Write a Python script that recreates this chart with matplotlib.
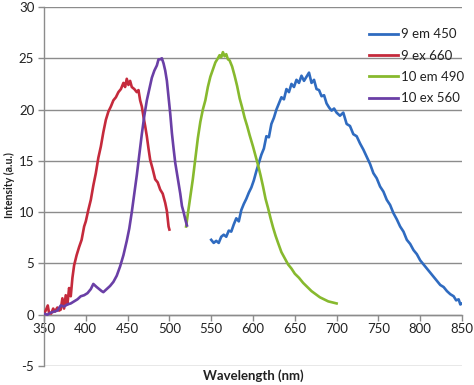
import matplotlib
matplotlib.use("Agg")
import matplotlib.pyplot as plt
from matplotlib.lines import Line2D

plt.rcParams['font.family'] = ['Lato', 'DejaVu Sans']

# ---- data ----
wl_9ex = [350, 352, 354.5, 356, 358.5, 361, 363, 366, 368, 370, 372, 374, 376, 378, 380, 382,
          384, 386, 389, 392, 395, 398, 400, 403, 406, 409, 412, 415, 418, 421, 424, 427,
          430, 433, 436, 439, 442, 445, 447, 449, 451, 453, 455, 458, 461, 463, 465, 467,
          469, 471, 473, 475, 477, 480, 483, 486, 489, 492, 495, 497, 499, 500]
int_9ex = [0.1, 0.4, 0.9, 0.2, 0.1, 0.6, 0.3, 0.7, 0.4, 0.5, 1.6, 0.6, 1.9, 1.0, 2.6, 1.8,
           3.6, 4.8, 5.8, 6.6, 7.3, 8.6, 9.1, 10.2, 11.2, 12.6, 13.8, 15.3, 16.4, 17.8, 19.0, 19.8,
           20.3, 20.9, 21.2, 21.7, 22.0, 22.6, 22.2, 23.0, 22.4, 22.8, 22.2, 22.0, 21.7, 21.9, 20.9, 20.3,
           19.3, 18.4, 17.4, 16.2, 15.1, 14.2, 13.2, 12.9, 12.2, 11.8, 10.9, 10.1, 8.6, 8.3]

wl_10ex = [350, 354, 358, 362, 366, 370, 374, 378, 382, 386, 390, 394, 398, 402, 406, 409,
           413, 416, 419, 421, 425, 429, 433, 437, 441, 445, 449, 452, 455, 458, 461, 464,
           467, 470, 473, 476, 479, 482, 485, 487, 489, 491, 493, 495, 497, 499, 501, 503,
           505, 507, 509, 511, 513, 515, 517, 519, 521]
int_10ex = [0.1, 0.0, 0.2, 0.3, 0.4, 0.9, 0.8, 1.0, 1.1, 1.3, 1.5, 1.8, 1.9, 2.1, 2.5, 3.0,
            2.7, 2.5, 2.3, 2.2, 2.5, 2.8, 3.2, 3.8, 4.7, 5.8, 7.2, 8.4, 10.0, 11.8, 13.6, 15.6,
            17.6, 19.4, 20.9, 22.0, 23.1, 23.8, 24.3, 24.9, 24.9, 25.0, 24.5, 23.8, 22.8, 21.2, 19.6, 17.7,
            16.2, 14.8, 13.8, 12.8, 11.8, 10.6, 10.0, 9.3, 8.7]

wl_10em = [520, 522, 525, 528, 531, 534, 537, 540, 543, 546, 549, 552, 555, 558, 560, 562,
           564, 566, 568, 570, 572, 575, 578, 581, 584, 587, 590, 593, 596, 600, 603, 606,
           609, 612, 615, 618, 621, 624, 627, 630, 634, 638, 642, 646, 650, 655, 660, 665,
           670, 675, 680, 685, 690, 695, 700]
int_10em = [8.6, 9.8, 11.5, 13.2, 15.2, 17.2, 18.8, 20.0, 20.9, 22.2, 23.2, 23.9, 24.6, 25.0, 25.3, 25.1,
            25.6, 25.2, 25.4, 24.9, 24.8, 24.2, 23.3, 22.3, 21.1, 20.2, 19.2, 18.4, 17.5, 16.4, 15.5, 14.6,
            13.6, 12.5, 11.3, 10.4, 9.4, 8.5, 7.7, 7.0, 6.1, 5.5, 4.9, 4.5, 4.0, 3.6, 3.1, 2.7,
            2.3, 2.0, 1.7, 1.5, 1.3, 1.2, 1.1]

wl_9em = [550, 553, 556, 559, 562, 565, 568, 571, 574, 577, 580, 583, 586, 589, 592, 595,
          598, 601, 604, 607, 610, 613, 616, 619, 622, 625, 628, 631, 634, 637, 640, 643,
          646, 649, 652, 655, 658, 661, 664, 667, 670, 673, 676, 679, 682, 685, 688, 691,
          694, 697, 700, 704, 708, 712, 716, 720, 724, 728, 732, 736, 740, 744, 748, 752,
          756, 760, 764, 768, 772, 776, 780, 784, 788, 792, 796, 800, 804, 808, 812, 816,
          820, 824, 828, 832, 836, 840, 843, 846, 848, 850]
int_9em = [7.3, 7.0, 7.2, 7.0, 7.6, 7.8, 7.6, 8.2, 8.1, 8.8, 9.4, 9.1, 10.2, 10.8, 11.3, 11.9,
           12.4, 13.1, 14.0, 14.8, 15.6, 16.2, 17.4, 17.3, 18.6, 19.2, 20.0, 20.6, 21.2, 21.0, 22.0, 21.7,
           22.5, 22.2, 22.9, 22.6, 23.3, 22.8, 23.2, 23.6, 22.6, 22.9, 22.0, 21.9, 21.3, 21.4, 20.6, 20.2,
           19.9, 20.1, 19.7, 19.4, 19.7, 18.6, 18.4, 17.6, 17.4, 16.7, 16.1, 15.4, 14.7, 13.8, 13.3, 12.5,
           12.0, 11.2, 10.7, 9.9, 9.3, 8.6, 8.1, 7.3, 6.9, 6.3, 5.9, 5.3, 4.9, 4.5, 4.1, 3.7,
           3.3, 2.9, 2.7, 2.3, 2.0, 1.8, 1.4, 1.5, 1.0, 1.1]

labels = ["9 em 450", "9 ex 660", "10 em 490", "10 ex 560"]
colors = ["#2f6bc0", "#c52a3c", "#87b92e", "#6a3fa6"]

xticks = [350, 400, 450, 500, 550, 600, 650, 700, 750, 800, 850]
yticks = [-5, 0, 5, 10, 15, 20, 25, 30]

# ---- figure ----
fig = plt.figure(figsize=(4.74, 3.85), dpi=100)
ax = fig.add_axes([44/474, 19/385, 418/474, 359/385])

lw = 1.9
ax.plot(wl_9em, int_9em, color=colors[0], lw=lw, zorder=3)
ax.plot(wl_9ex, int_9ex, color=colors[1], lw=lw, zorder=3)
ax.plot(wl_10em, int_10em, color=colors[2], lw=lw, zorder=3)
ax.plot(wl_10ex, int_10ex, color=colors[3], lw=lw, zorder=4)

ax.set_xlim(350, 850)
ax.set_ylim(-5, 30)
ax.set_xticks(xticks)
ax.set_yticks(yticks)
ax.set_xticklabels([str(t) for t in xticks])
ax.set_yticklabels([str(t) for t in yticks])

gcol = "#8c8c8c"
ax.grid(axis='y', color=gcol, lw=1.0, zorder=1)
ax.set_axisbelow(True)
for s in ['top', 'right']:
    ax.spines[s].set_visible(False)
ax.spines['left'].set_color(gcol)
ax.spines['bottom'].set_color(gcol)
ax.spines['bottom'].set_position(('data', 0))
ax.spines['left'].set_linewidth(1.0)
ax.spines['bottom'].set_linewidth(1.0)
ax.tick_params(axis='both', colors=gcol, length=4, width=1.0, labelsize=9.5, labelcolor='#222222')
ax.tick_params(axis='x', direction='out', pad=2)
ax.tick_params(axis='y', direction='out', pad=3)

fig.text(253/474, 1 - 376/385, "Wavelength (nm)", ha='center', va='center',
         fontsize=9.5, fontweight='bold', color='#222222')
fig.text(9/474, 1 - 185/385, "Intensity (a.u.)", ha='center', va='center', rotation=90,
         fontsize=7.6, fontweight='bold', color='#222222')

handles = [Line2D([0], [0], color=c, lw=2.0) for c in colors]
leg = ax.legend(handles, labels, loc='upper left', bbox_to_anchor=(0.765, 0.955),
                frameon=False, fontsize=9.5, handlelength=2.2, handletextpad=0.2,
                labelspacing=0.7, borderaxespad=0)
for t in leg.get_texts():
    t.set_color('#222222')

fig.savefig("out.png", dpi=100)
